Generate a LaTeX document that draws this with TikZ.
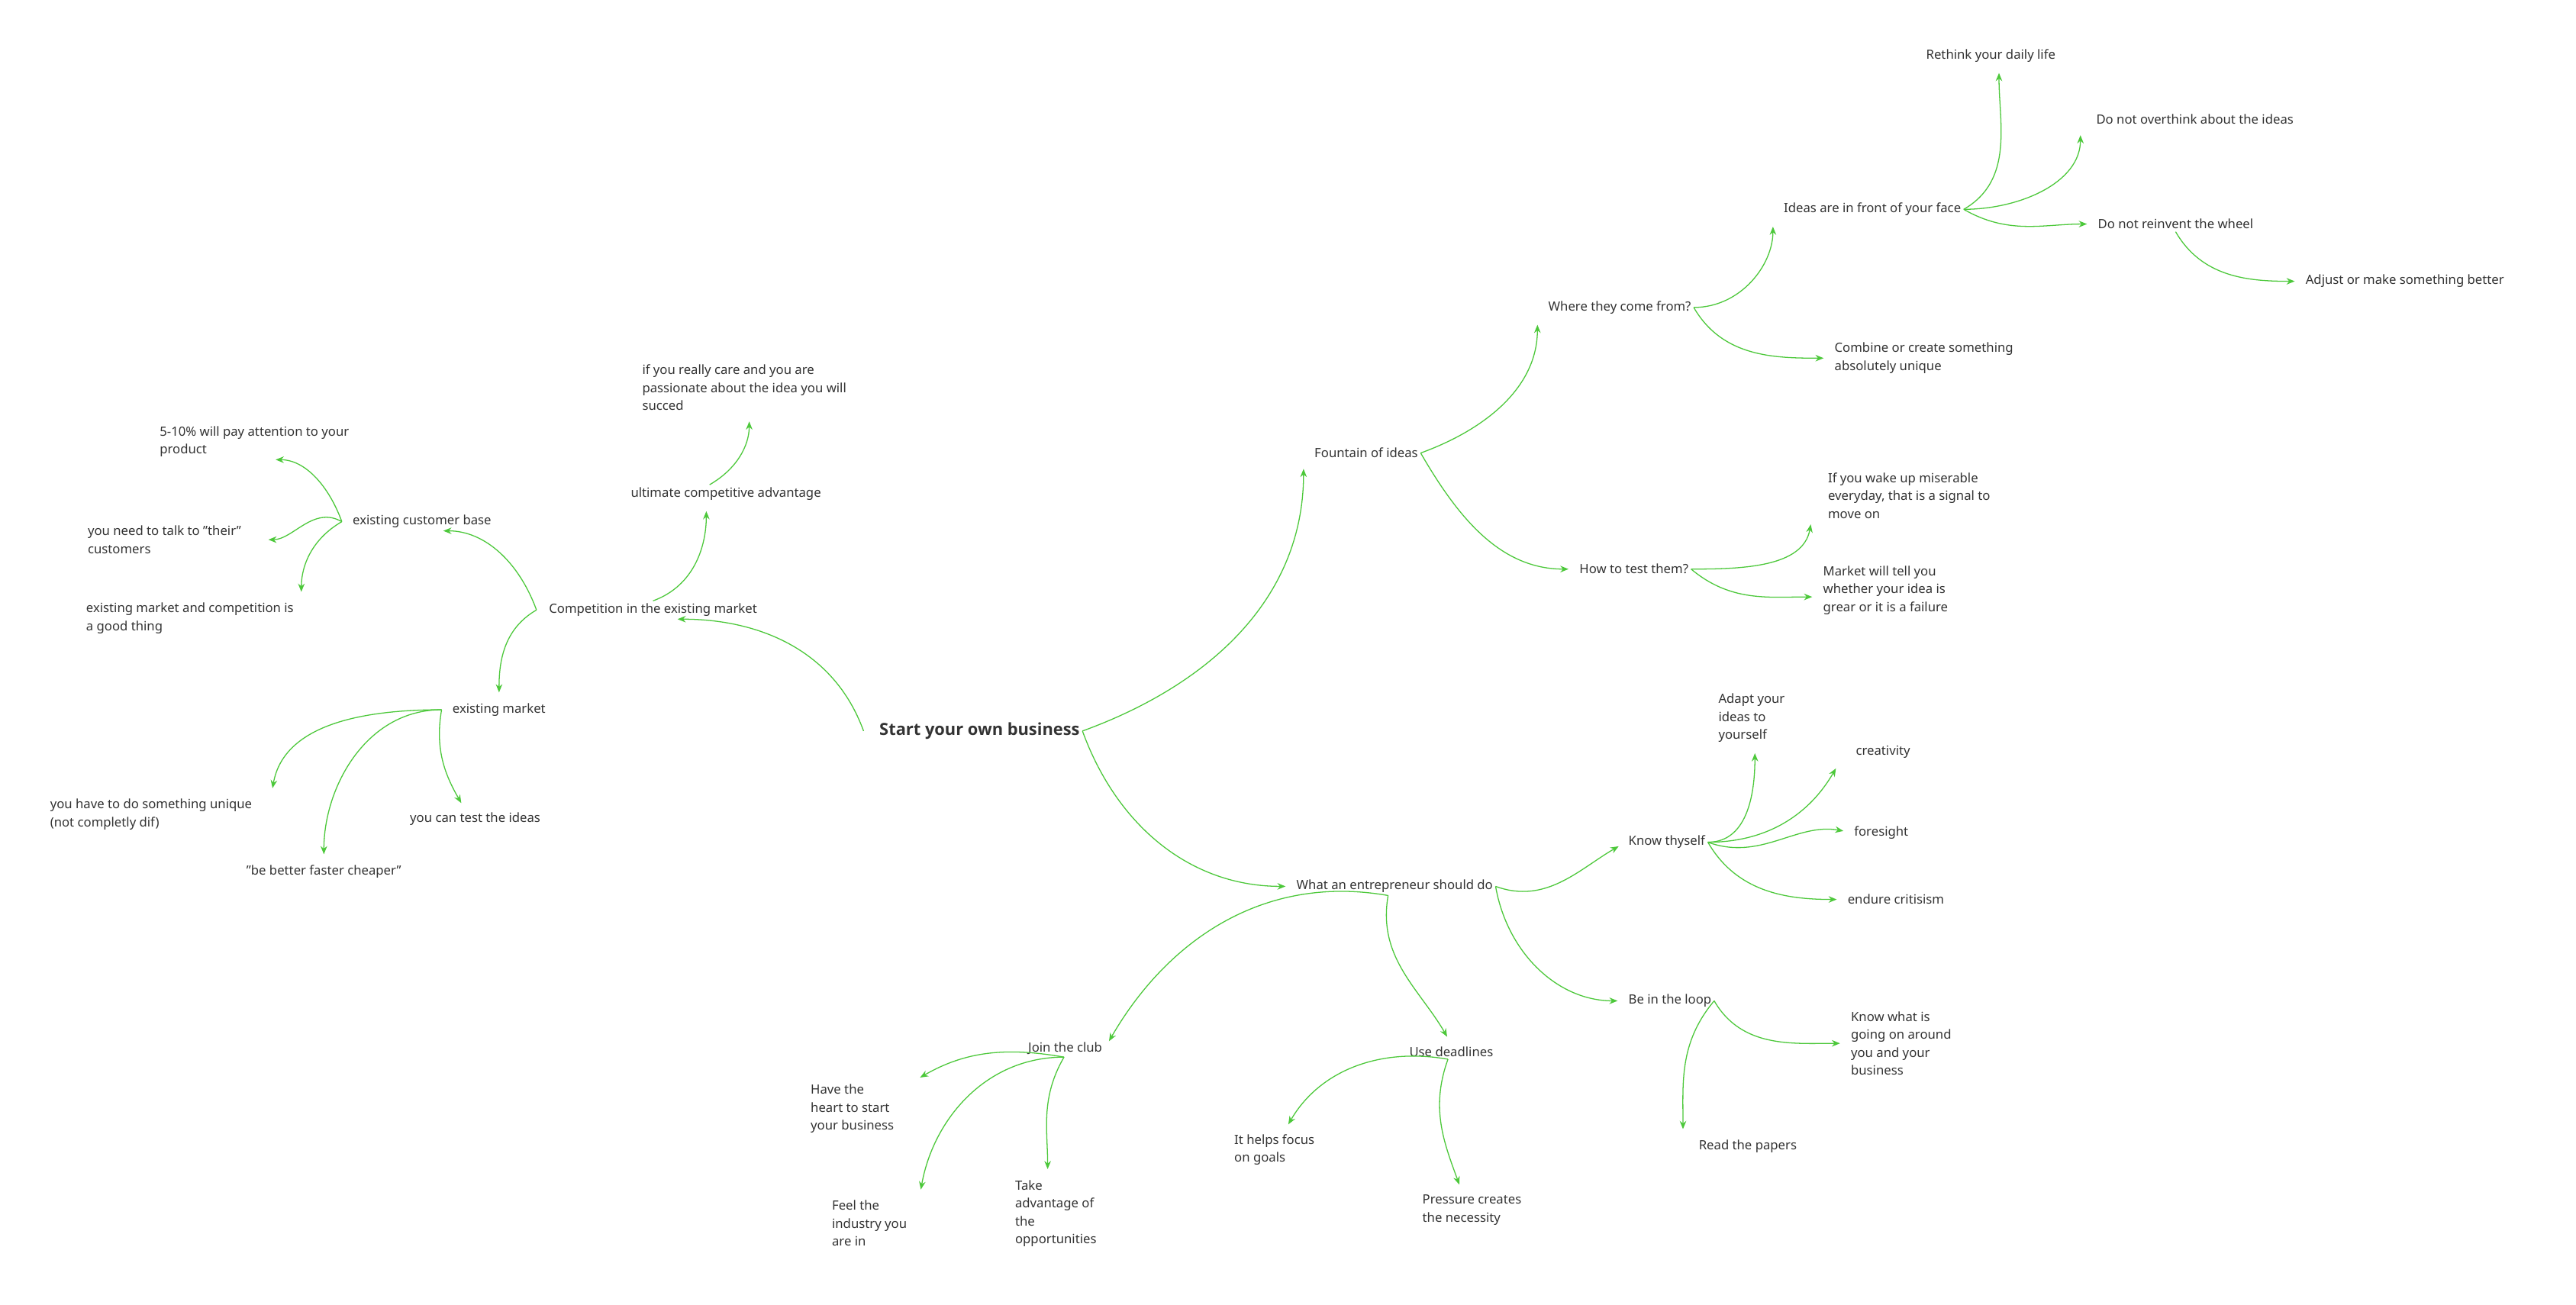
\documentclass[tikz,border=0pt]{standalone}
\usepackage{fontspec}
\setmainfont{Noto Sans}
\newfontfamily\rootfont{Open Sans}
\usetikzlibrary{arrows.meta}
\definecolor{lg}{HTML}{4CC83A}
\definecolor{tx}{HTML}{333333}
\tikzset{
  t/.style={anchor=west,align=left,text=tx,inner sep=1.5pt,font=\fontsize{7.8}{11}\selectfont},
  rootn/.style={anchor=west,text=tx,inner sep=1.5pt,font=\rootfont\fontsize{10.2}{12}\selectfont\bfseries},
  c/.style={draw=lg,line width=0.6pt,-{Stealth[length=5pt,width=4pt]},shorten >=5pt}
}
\begin{document}
\begin{tikzpicture}[x=1pt,y=1pt]
\useasboundingbox[fill=white] (0,0) rectangle (1575,-798);
\node[rootn] (root) at (536,-447) {Start your own business};
\node[t] (fountain) at (802,-277) {Fountain of ideas};
\node[t] (where) at (945,-188) {Where they come from?};
\node[t] (ideas) at (1089,-128) {Ideas are in front of your face};
\node[t] (rethink) at (1176,-34) {Rethink your daily life};
\node[t] (over) at (1280,-73) {Do not overthink about the ideas};
\node[t] (reinv) at (1281,-137) {Do not reinvent the wheel};
\node[t] (adjust) at (1408,-172) {Adjust or make something better};
\node[t] (combine) at (1120,-219) {Combine or create something\\absolutely unique};
\node[t] (how) at (964,-348) {How to test them?};
\node[t] (wake) at (1116,-303) {If you wake up miserable\\everyday, that is a signal to\\move on};
\node[t] (market) at (1113,-361) {Market will tell you\\whether your idea is\\grear or it is a failure};
\node[t] (what) at (791,-542) {What an entrepreneur should do};
\node[t] (know) at (994,-515) {Know thyself};
\node[t] (adapt) at (1049,-439) {Adapt your\\ideas to\\yourself};
\node[t] (creat) at (1133,-460) {creativity};
\node[t] (fore) at (1132,-509) {foresight};
\node[t] (endure) at (1128,-550) {endure critisism};
\node[t] (loop) at (994,-612) {Be in the loop};
\node[t] (kwhat) at (1130,-638) {Know what is\\going on around\\you and your\\business};
\node[t] (read) at (1037,-701) {Read the papers};
\node[t] (join) at (627,-641) {Join the club};
\node[t] (heart) at (494,-678) {Have the\\heart to start\\your business};
\node[t] (feel) at (507,-748) {Feel the\\industry you\\are in};
\node[t] (take) at (619,-742) {Take\\advantage of\\the\\opportunities};
\node[t] (dead) at (860,-643) {Use deadlines};
\node[t] (helps) at (753,-703) {It helps focus\\on goals};
\node[t] (press) at (868,-740) {Pressure creates\\the necessity};
\node[t] (comp) at (334,-373) {Competition in the existing market};
\node[t] (ult) at (384,-302) {ultimate competitive advantage};
\node[t] (care) at (391,-237) {if you really care and you are\\passionate about the idea you will\\succed};
\node[t] (cust) at (214,-319) {existing customer base};
\node[t] (p510) at (96,-270) {5-10\% will pay attention to your\\product};
\node[t] (talk) at (52,-330) {you need to talk to "their"\\customers};
\node[t] (good) at (51,-378) {existing market and competition is\\a good thing};
\node[t] (em) at (275,-434) {existing market};
\node[t] (uniq) at (29,-498) {you have to do something unique\\(not completly dif)};
\node[t] (better) at (149,-533) {"be better faster cheaper"};
\node[t] (test) at (249,-501) {you can test the ideas};

\draw[c] (root.east) to[out=20,in=-90] ([xshift=-5pt]fountain.south west);
\draw[c] ([xshift=-8pt]root.west) to[out=110,in=0] ([xshift=10pt]comp.south);
\draw[c] (root.east) to[out=-70,in=180] (what.west);
\draw[c] (fountain.east) to[out=20,in=-90] ([xshift=-5pt]where.south west);
\draw[c] (fountain.east) to[out=-60,in=180] (how.west);
\draw[c] (where.east) to[out=0,in=-90] ([xshift=-5pt]ideas.south west);
\draw[c] (where.east) to[out=-60,in=180] (combine.west);
\draw[c] (ideas.east) to[out=30,in=-90] ([xshift=5pt]rethink.south);
\draw[c] (ideas.east) to[out=0,in=-90] ([xshift=-8pt]over.south west);
\draw[c] (ideas.east) to[out=-30,in=180] (reinv.west);
\draw[c] (reinv.south) to[out=-60,in=180] (adjust.west);
\draw[c] (how.east) to[out=0,in=-100] ([xshift=-8pt,yshift=3pt]wake.south west);
\draw[c] (how.east) to[out=-40,in=180] ([yshift=-4pt]market.west);
\draw[c] (what.east) to[out=-20,in=210] (know.west);
\draw[c] (what.east) to[out=-80,in=180] (loop.west);
\draw[c] ([xshift=-4pt]what.south) to[out=170,in=60] (join.east);
\draw[c] ([xshift=-4pt]what.south) to[out=-100,in=120] (dead.north);
\draw[c] (know.east) to[out=0,in=-90] ([xshift=2pt]adapt.south);
\draw[c] (know.east) to[out=0,in=-120] ([xshift=-8pt]creat.south west);
\draw[c] (know.east) to[out=-20,in=170] (fore.west);
\draw[c] (know.east) to[out=-60,in=180] (endure.west);
\draw[c] (loop.east) to[out=-60,in=180] (kwhat.west);
\draw[c] (loop.east) to[out=-130,in=90] ([xshift=-8pt]read.north west);
\draw[c] ([xshift=-25pt]join.south east) to[out=170,in=30] ([xshift=10pt]heart.north east);
\draw[c] ([xshift=-25pt]join.south east) to[out=180,in=80] ([xshift=6pt]feel.north east);
\draw[c] ([xshift=-25pt]join.south east) to[out=-120,in=90] ([xshift=-5pt]take.north);
\draw[c] ([xshift=-2pt]dead.south) to[out=170,in=60] ([xshift=6pt]helps.north);
\draw[c] ([xshift=-2pt]dead.south) to[out=-110,in=110] ([xshift=-6pt]press.north);
\draw[c] (comp.north) to[out=20,in=-90] ([xshift=-12pt]ult.south);
\draw[c] ([xshift=-10pt]ult.north) to[out=30,in=-90] ([xshift=3pt]care.south);
\draw[c] ([xshift=-6pt]comp.west) to[out=110,in=0] ([xshift=8pt]cust.south);
\draw[c] ([xshift=-6pt]comp.west) to[out=-150,in=90] (em.north);
\draw[c] ([xshift=-5pt]cust.west) to[out=110,in=0] ([xshift=8pt]p510.south);
\draw[c] ([xshift=-5pt]cust.west) to[out=150,in=0] ([xshift=10pt]talk.east);
\draw[c] ([xshift=-5pt]cust.west) to[out=-150,in=90] ([xshift=3pt]good.north east);
\draw[c] ([xshift=-5pt]em.west) to[out=180,in=80] ([xshift=10pt]uniq.north east);
\draw[c] ([xshift=-5pt]em.west) to[out=180,in=90] (better.north);
\draw[c] ([xshift=-5pt]em.west) to[out=-100,in=120] ([xshift=-6pt]test.north);
\end{tikzpicture}
\end{document}
